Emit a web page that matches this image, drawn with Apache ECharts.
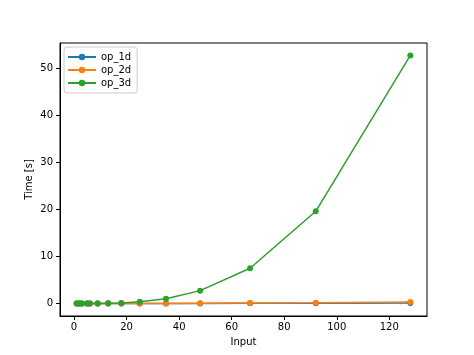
<!DOCTYPE html>
<html>
<head>
<meta charset="utf-8">
<script src="https://cdn.jsdelivr.net/npm/echarts@6/dist/echarts.min.js"></script>
<style>html,body{margin:0;padding:0;background:#fff}#c{width:474px;height:355px}</style>
</head>
<body>
<div id="c"></div>
<script>
const inputs = [1, 2, 3, 5, 6, 9, 13, 18, 25, 35, 48, 67, 92, 128];
const op1d = [0.001, 0.002, 0.003, 0.004, 0.005, 0.007, 0.01, 0.014, 0.02, 0.027, 0.037, 0.052, 0.072, 0.1];
const op2d = [0.0, 0.0, 0.001, 0.001, 0.001, 0.002, 0.004, 0.007, 0.013, 0.026, 0.05, 0.1, 0.18, 0.35];
const op3d = [0.0, 0.0003, 0.001, 0.003, 0.006, 0.02, 0.06, 0.15, 0.39, 1.05, 2.75, 7.5, 19.6, 52.7];
const xTicks = [0, 20, 40, 60, 80, 100, 120];
const yTicks = [0, 10, 20, 30, 40, 50];
const names = ['op_1d', 'op_2d', 'op_3d'];
const colors = ['#1f77b4', '#ff7f0e', '#2ca02c'];
const seriesVals = [op1d, op2d, op3d];

const xmin = Math.min(...inputs), xmax = Math.max(...inputs);
const allY = [].concat(op1d, op2d, op3d);
const ymin = Math.min(...allY), ymax = Math.max(...allY);
const xp = (xmax - xmin) * 0.05, yp = (ymax - ymin) * 0.05;

const font = 'DejaVu Sans';
const chart = echarts.init(document.getElementById('c'), null, {renderer: 'canvas'});
chart.setOption({
  animation: false,
  backgroundColor: '#fff',
  grid: {left: 60, right: 47, top: 43, bottom: 39, show: true, borderColor: '#000', borderWidth: 1, backgroundColor: 'transparent'},
  legend: {
    orient: 'vertical', left: 64, top: 47,
    data: names,
    itemWidth: 28, itemHeight: 8, itemGap: 3,
    padding: [5, 6, 5, 3],
    borderColor: '#cccccc', borderWidth: 1, borderRadius: 3,
    backgroundColor: 'rgba(255,255,255,0.8)',
    textStyle: {fontFamily: font, fontSize: 10, color: '#000'}
  },
  xAxis: {
    type: 'value', min: xmin - xp, max: xmax + xp,
    name: 'Input', nameLocation: 'middle', nameGap: 21, nameMoveOverlap: false,
    nameTextStyle: {fontFamily: font, fontSize: 10, color: '#000'},
    axisLine: {show: true, onZero: false, lineStyle: {color: '#000', width: 1}},
    axisTick: {show: true, length: 4, lineStyle: {color: '#000'}, customValues: xTicks},
    axisLabel: {fontFamily: font, fontSize: 10, color: '#000', margin: 6, customValues: xTicks},
    splitLine: {show: false}
  },
  yAxis: {
    type: 'value', min: ymin - yp, max: ymax + yp,
    name: 'Time [s]', nameLocation: 'middle', nameGap: 26, nameMoveOverlap: false,
    nameTextStyle: {fontFamily: font, fontSize: 10, color: '#000'},
    axisLine: {show: true, onZero: false, lineStyle: {color: '#000', width: 1}},
    axisTick: {show: true, length: 4, lineStyle: {color: '#000'}, customValues: yTicks},
    axisLabel: {fontFamily: font, fontSize: 10, color: '#000', margin: 7, customValues: yTicks},
    splitLine: {show: false}
  },
  series: names.map((n, i) => ({
    name: n, type: 'line',
    data: inputs.map((x, j) => [x, seriesVals[i][j]]),
    symbol: 'circle', symbolSize: 6,
    lineStyle: {color: colors[i], width: 1.5},
    itemStyle: {color: colors[i]},
    emphasis: {disabled: true}
  }))
});
</script>
</body>
</html>
